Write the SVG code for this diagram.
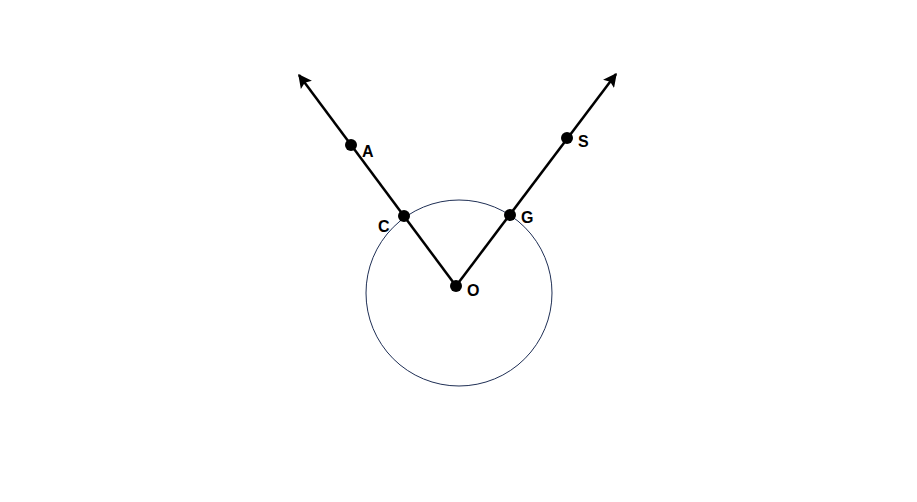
<svg xmlns="http://www.w3.org/2000/svg" width="917" height="502" viewBox="0 0 917 502">
<style>
.ray{stroke:#000;stroke-width:2.5;fill:none}
.pt{fill:#000}
.lbl{font-family:"Liberation Sans",Arial,sans-serif;font-weight:bold;font-size:16px;fill:#000}
</style>
<defs>
<marker id="arr" viewBox="0 0 10 10" refX="9" refY="5" markerWidth="5.5" markerHeight="5.5" orient="auto" markerUnits="strokeWidth">
<path d="M0,0 L10,5 L0,10 L2,5 z" fill="#000"/>
</marker>
</defs>
<rect width="917" height="502" fill="#fff"/>
<g id="circle"><circle cx="459" cy="293" r="93" fill="none" stroke="#1f2f55" stroke-width="1"/></g>
<g id="connectors">
<path class="ray" d="M456,286 L299,75" marker-end="url(#arr)"/>
<path class="ray" d="M456,286 L616,74" marker-end="url(#arr)"/>
</g>
<g id="A"><circle class="pt" cx="351" cy="145" r="6"/><text class="lbl" x="362" y="157">A</text></g>
<g id="C"><circle class="pt" cx="404" cy="216" r="6"/><text class="lbl" x="378" y="232">C</text></g>
<g id="O"><circle class="pt" cx="456" cy="286" r="6"/><text class="lbl" x="467" y="296">O</text></g>
<g id="G"><circle class="pt" cx="510" cy="215" r="6"/><text class="lbl" x="521" y="223">G</text></g>
<g id="S"><circle class="pt" cx="567" cy="138" r="6"/><text class="lbl" x="578" y="147">S</text></g>
</svg>
